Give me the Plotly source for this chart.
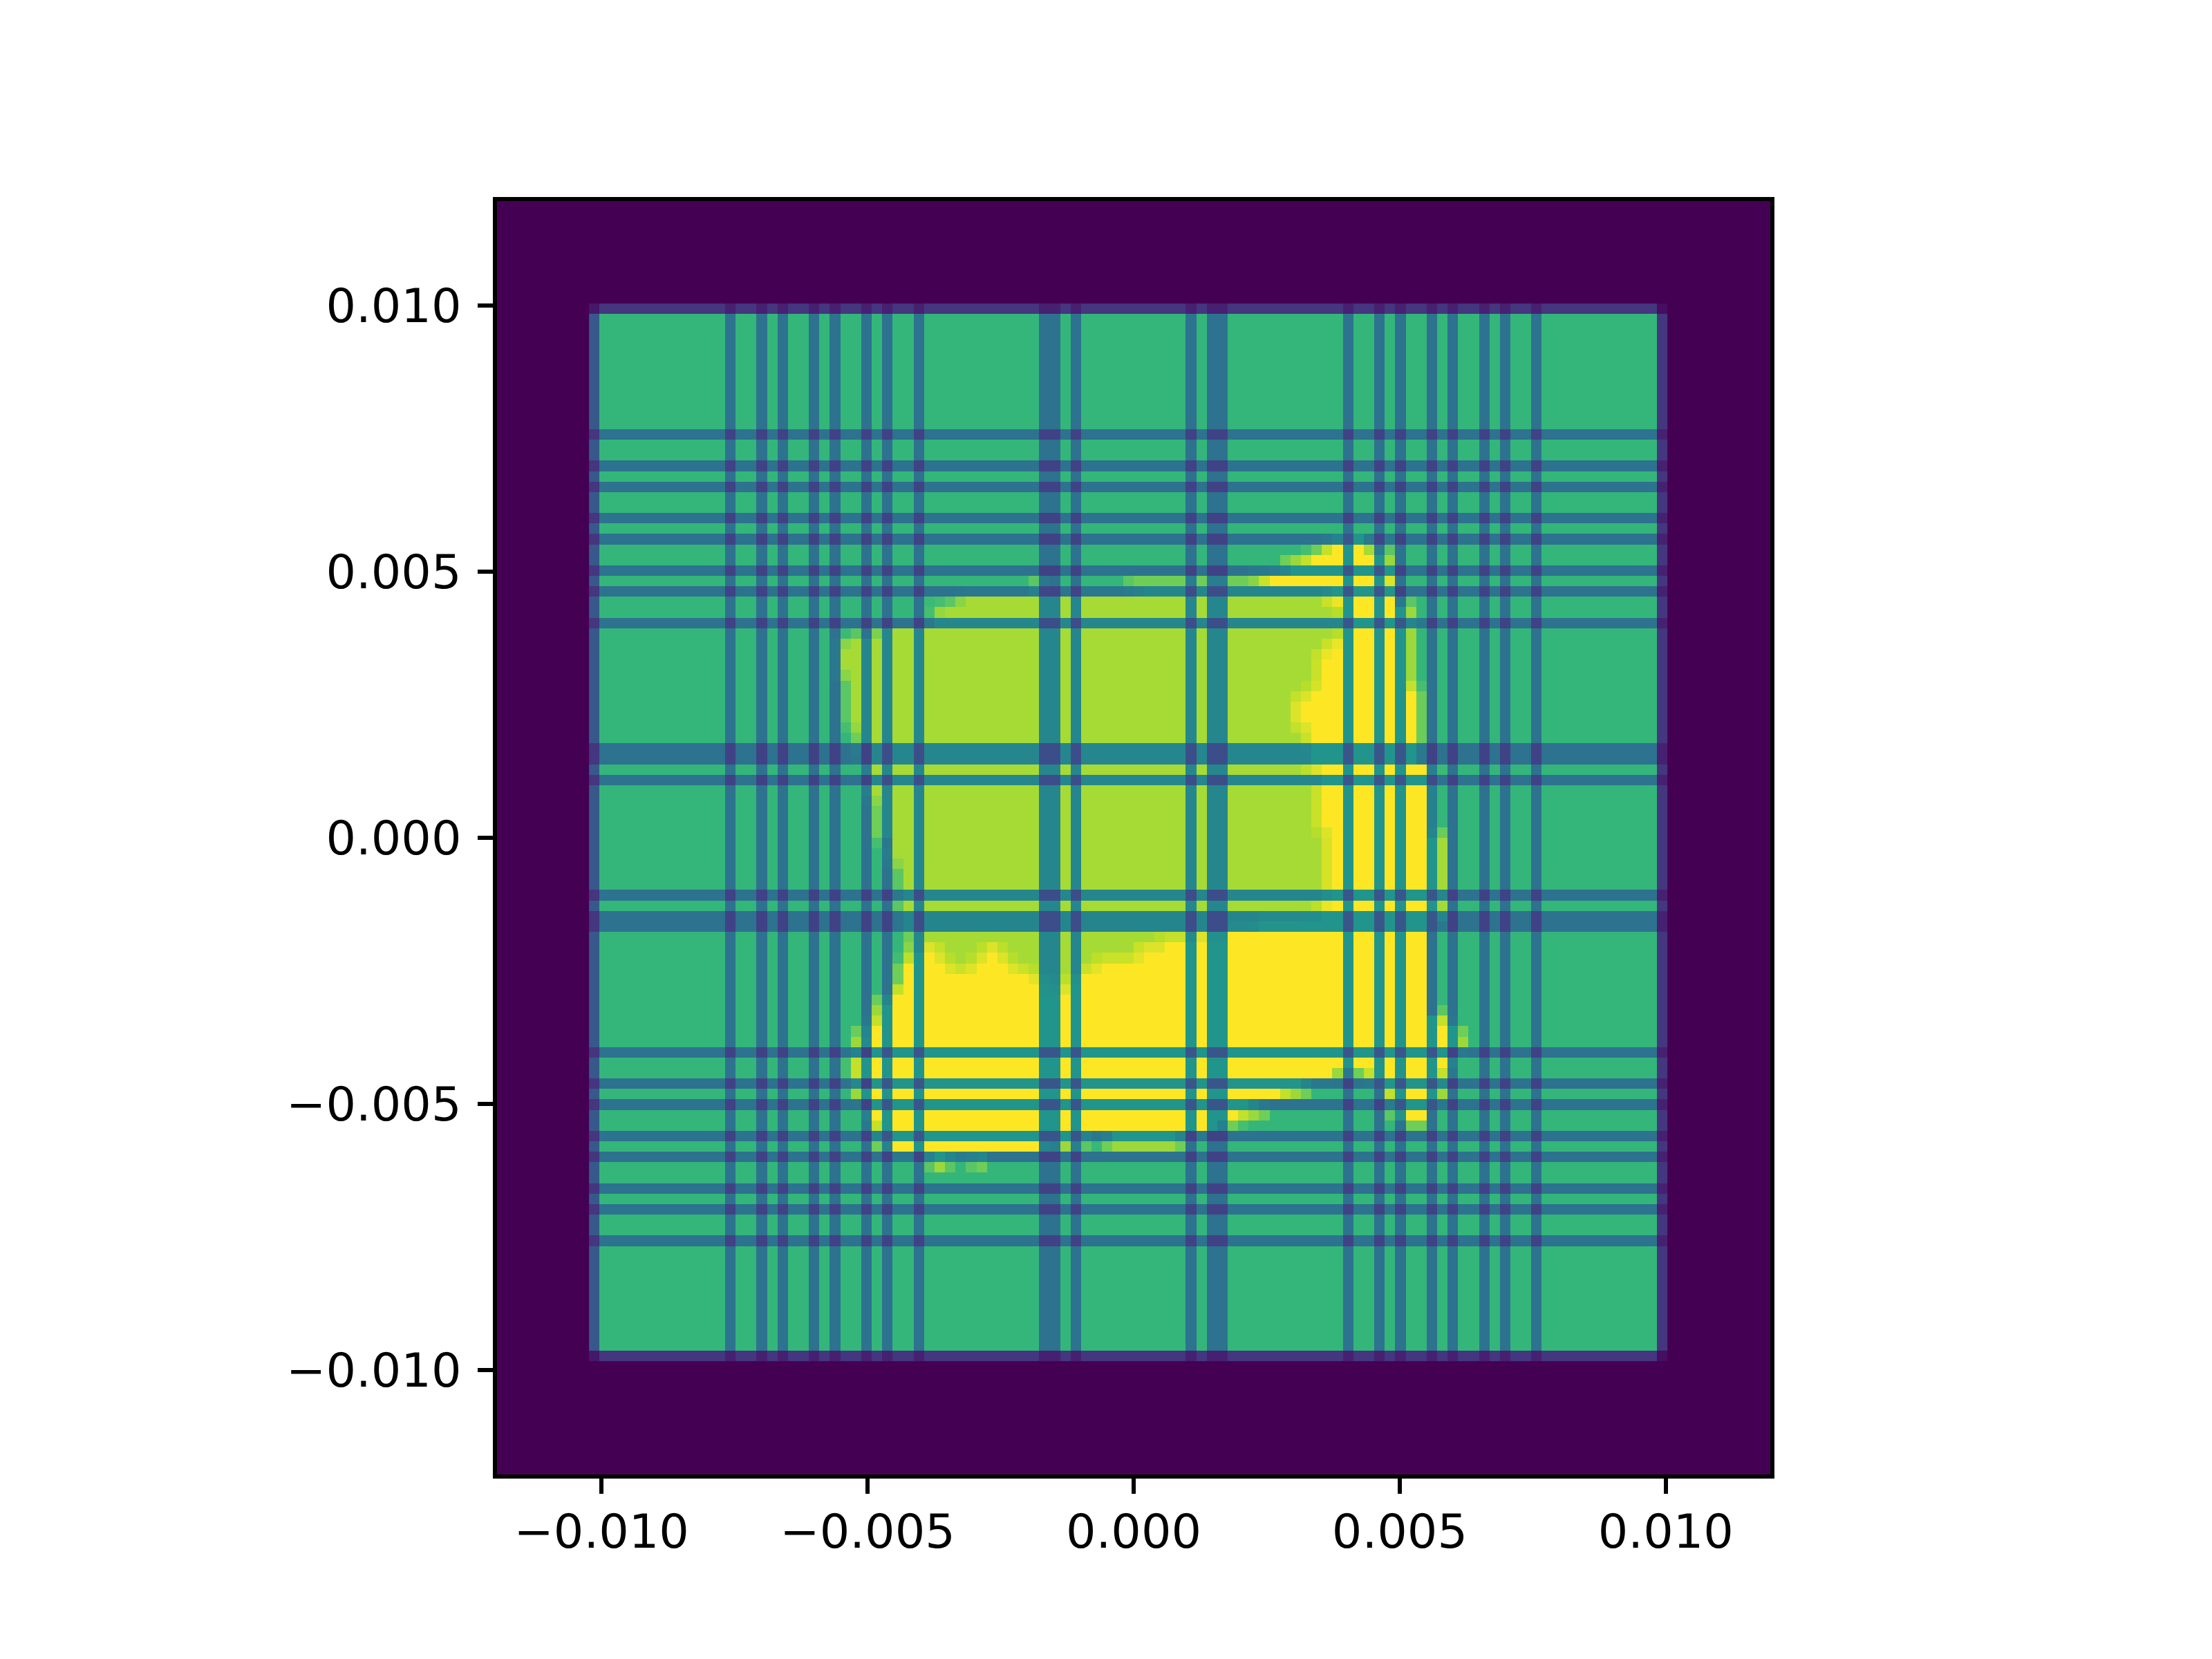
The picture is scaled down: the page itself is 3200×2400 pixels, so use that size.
import numpy as np
import plotly.graph_objects as go

# grid: 103 columns, 101 rows
n_cols = 103
n_rows = 101
x_left = -0.010234
x_right = 0.010026
y_top = 0.010039
y_bottom = -0.009831

tick_vals = [-0.010, -0.005, 0.000, 0.005, 0.010]
tick_text = ["\u22120.010", "\u22120.005", "0.000", "0.005", "0.010"]

# dark stripes, by column and by row (row 0 is the top one)
line_cols = [13, 16, 18, 21, 23, 26, 28, 31, 43, 44, 46, 57, 59, 60, 72, 75, 77, 80, 82, 85, 87, 90]
line_rows = [12, 15, 17, 20, 22, 25, 27, 30, 42, 43, 45, 56, 58, 59, 71, 74, 76, 79, 81, 84, 86, 89]
# how a level shows under one stripe and where two stripes cross: slope, offset
one_stripe = (0.426, 0.094)
two_stripes = (0.2, 0.068)
# outer frame of the grid
left_gain = 0.42
right_gain = 0.24
top_gain = 0.24
bottom_gain = 0.24

G = 0.66   # green field
L = 0.865  # lime area
Y = 1.0    # yellow area

# for each row: column where a run starts -> level of that run, rows not listed are all green
base_runs = {
    22: {70: .72, 71: .82, 72: Y, 74: .74, 75: .7, 76: .72, 77: G},
    23: {68: .70, 69: .78, 70: .91, 71: Y, 74: L, 75: .75, 76: .74, 77: G},
    24: {66: .78, 67: .85, 68: .91, 69: Y, 76: .85, 77: G},
    25: {63: .72, 64: .74, 65: .78, 66: .85, 67: Y, 77: G},
    26: {42: .74, 43: .72, 44: G, 51: .74, 52: .78, 63: .82, 64: .92, 65: Y, 76: .95, 77: G},
    27: {35: .70, 36: .72, 42: .8, 43: .74, 44: .7, 47: .72, 51: .75, 52: .8, 53: .85, 70: .9, 71: Y, 77: G},
    28: {32: .68, 33: .70, 34: .74, 35: .82, 36: L, 70: .92, 71: .97, 72: Y, 77: .72, 78: .74, 79: G},
    29: {32: .70, 33: .84, 34: L, 71: .89, 72: Y, 78: .85, 79: G},
    30: {32: .72, 33: L, 72: Y, 78: .85, 79: .72, 80: G},
    31: {24: .68, 25: .74, 26: G, 27: .80, 28: L, 71: .89, 72: Y, 78: .85, 79: G},
    32: {23: .72, 24: .82, 25: L, 70: .92, 71: .97, 72: Y, 78: .85, 79: G},
    33: {23: .72, 24: L, 69: .91, 70: .97, 71: Y, 78: .85, 79: G},
    34: {23: .72, 24: L, 69: .92, 70: Y, 78: .85, 79: G},
    35: {23: .72, 24: .82, 25: L, 69: .92, 70: Y, 78: .85, 79: G},
    36: {24: .74, 25: L, 68: .89, 69: .94, 70: Y, 78: .91, 79: .70, 80: G},
    37: {24: .74, 25: L, 67: .91, 68: .95, 69: Y, 79: .77, 80: G},
    38: {24: .74, 25: L, 67: .95, 68: Y, 79: .77, 80: G},
    39: {24: .74, 25: L, 67: .95, 68: Y, 79: .77, 80: G},
    40: {24: .70, 25: .84, 26: L, 67: .91, 68: .95, 69: Y, 79: .77, 80: G},
    41: {25: .78, 26: L, 68: .92, 69: Y, 79: .77, 80: G},
    42: {25: .75, 26: G, 27: L, 68: .88, 69: Y, 79: .74, 80: G},
    43: {25: .72, 26: G, 27: L, 69: Y, 79: .72, 80: G},
    44: {26: .78, 27: L, 68: .90, 69: .95, 70: Y, 80: .8, 81: .68, 82: G},
    45: {27: L, 70: Y, 80: .8, 81: .68, 82: G},
    46: {26: .78, 27: L, 69: .92, 70: Y, 80: .8, 81: G},
    47: {26: .72, 27: .82, 28: L, 69: .92, 70: Y, 80: .8, 81: G},
    48: {27: .78, 28: L, 69: .92, 70: Y, 80: .8, 81: G},
    49: {27: .78, 28: L, 69: .92, 70: Y, 80: .8, 81: G},
    50: {27: .78, 28: L, 69: .89, 70: .95, 71: Y, 80: .85, 81: .77, 82: G},
    51: {27: .70, 28: .72, 29: L, 70: .94, 71: Y, 81: .86, 82: G},
    52: {28: .75, 29: L, 70: .94, 71: Y, 81: .86, 82: G},
    53: {28: .72, 29: .82, 30: L, 70: .94, 71: Y, 81: .86, 82: G},
    54: {29: .74, 30: L, 70: .94, 71: Y, 81: .86, 82: G},
    55: {29: .74, 30: L, 70: .94, 71: Y, 81: .86, 82: G},
    56: {29: .74, 30: L, 70: .94, 71: Y, 81: .86, 82: G},
    57: {29: .74, 30: L, 69: .90, 70: .97, 71: Y, 81: .86, 82: G},
    58: {29: .70, 30: .85, 64: .90, 68: .92, 70: Y, 81: .85, 82: G},
    59: {29: .70, 30: .85, 61: .90, 63: .92, 64: Y, 81: .72, 82: G},
    60: {30: .78, 31: L, 54: .89, 55: .91, 58: .95, 61: Y, 80: G},
    61: {30: .82, 31: L, 32: .95, 33: .91, 34: L, 37: .90, 38: .95, 39: .90, 40: L, 52: .92, 53: .95, 55: Y, 80: G},
    62: {29: .69, 30: .90, 31: Y, 33: .95, 34: .89, 35: L, 36: .89, 37: .95, 38: Y, 39: .95, 40: .89, 41: L,
         48: .90, 49: .92, 52: .96, 53: Y, 80: G},
    63: {29: .78, 30: Y, 34: .95, 35: .92, 36: .95, 37: Y, 40: .95, 41: .92, 42: .89, 43: L, 47: .92, 48: .96,
         49: Y, 80: G},
    64: {29: .78, 30: Y, 42: .96, 43: .93, 44: .90, 46: .95, 47: Y, 80: G},
    65: {29: .91, 30: Y, 43: .97, 44: .95, 46: Y, 80: G},
    66: {27: .77, 28: .85, 29: Y, 80: G},
    67: {27: .85, 28: Y, 80: G, 81: .74, 82: G},
    68: {26: .72, 27: .91, 28: Y, 81: .91, 82: .72, 83: G},
    69: {25: .77, 26: .85, 27: Y, 83: .78, 84: G},
    70: {25: .85, 26: .9, 27: Y, 83: .85, 84: G},
    71: {24: .68, 25: .82, 26: G, 27: Y, 82: G, 83: .72, 84: G},
    72: {24: .70, 25: .91, 26: Y, 82: .8, 83: G},
    73: {24: .70, 25: .91, 26: Y, 71: .85, 72: .72, 73: .78, 74: .91, 75: Y, 81: .91, 82: .72, 83: G},
    74: {25: .88, 26: G, 27: Y, 68: .85, 69: .72, 71: .70, 72: G, 73: .68, 74: .72, 75: Y, 81: .90, 82: G},
    75: {25: .85, 26: Y, 66: .91, 67: .85, 68: .78, 69: G, 76: .91, 77: Y, 81: .85, 82: G},
    76: {25: .70, 26: G, 27: Y, 63: .85, 64: .72, 65: G, 76: .75, 77: Y, 81: .72, 82: G},
    77: {26: .80, 27: Y, 62: .91, 63: .85, 64: .78, 65: G, 76: .74, 77: Y, 80: G},
    78: {26: .72, 27: .91, 28: Y, 60: .80, 61: .78, 62: .70, 63: G, 78: .78, 80: G},
    79: {27: .85, 28: Y, 47: .82, 48: .72, 49: .78, 50: Y, 56: .85, 57: G, 58: .72, 59: G},
    80: {27: .78, 28: .82, 29: Y, 43: .85, 44: .80, 45: .85, 46: .8, 47: .74, 48: .67, 49: .78, 50: .85, 56: .78, 57: G},
    81: {29: .72, 31: G, 32: .82, 33: Y, 34: .85, 35: .76, 36: .8, 37: .85, 38: G},
    82: {32: .74, 33: .85, 34: .74, 35: G, 36: .74, 37: .78, 38: G},
}


def build_grid():
    z = np.full((n_rows, n_cols), G)
    for row, runs in base_runs.items():
        for start, level in runs.items():
            z[row, start:] = level
    # stripes darken whatever is under them, crossings more so
    stripes = np.zeros((n_rows, n_cols), dtype=int)
    stripes[:, line_cols] += 1
    stripes[line_rows, :] += 1
    z = np.where(stripes == 1, z * one_stripe[0] + one_stripe[1], z)
    z = np.where(stripes == 2, z * two_stripes[0] + two_stripes[1], z)
    z[:, 0] *= left_gain
    z[:, -1] *= right_gain
    z[0, :] *= top_gain
    z[-1, :] *= bottom_gain
    return z


z = build_grid()
dx = (x_right - x_left) / n_cols
dy = (y_top - y_bottom) / n_rows

fig = go.Figure(go.Heatmap(
    z=z[::-1],
    x0=x_left + dx / 2, dx=dx,
    y0=y_bottom + dy / 2, dy=dy,
    colorscale="Viridis", zmin=0, zmax=1,
    showscale=False, hoverinfo="skip",
))

# plotly draws the frame outside the plot area, so pull the area in by half a line
line_w = 5.6
half_range = 0.012 * (1848 - line_w) / 1848

axis_style = dict(
    range=[-half_range, half_range], tickmode="array", tickvals=tick_vals, ticktext=tick_text,
    ticks="outside", ticklen=22, tickwidth=line_w, tickcolor="black",
    showline=True, linecolor="black", linewidth=line_w, mirror=True,
    showgrid=False, zeroline=False,
    tickfont=dict(family="DejaVu Sans", size=68.5, color="black"),
)
fig.update_xaxes(ticklabelstandoff=-4, **axis_style)
fig.update_yaxes(ticklabelstandoff=10, **axis_style)
# the page adds 8px of body margin, so the frame starts 8px early
fig.update_layout(
    width=3200, height=2400, autosize=False,
    margin=dict(l=708 + line_w / 2, r=644 + line_w / 2, t=280 + line_w / 2, b=272 + line_w / 2, pad=0),
    plot_bgcolor="#440154", paper_bgcolor="white",
)
fig.write_html("out.html")
